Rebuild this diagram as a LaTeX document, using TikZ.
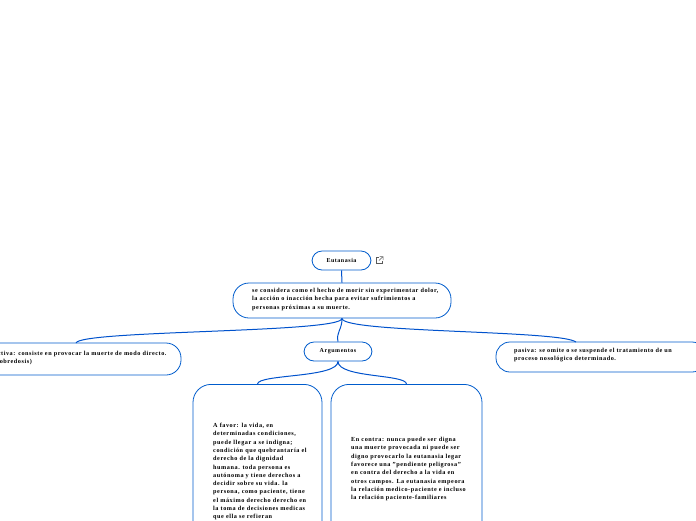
\documentclass[tikz,border=0pt]{standalone}
\usepackage{fontspec}
\setmainfont{Liberation Serif}[LetterSpace=9]
\begin{document}
\begin{tikzpicture}[x=1pt,y=-1pt,
  box/.style={draw=blue!55!cyan!80!black, line width=0.8pt, rounded corners=10pt, fill=white},
  txt/.style={font=\bfseries\fontsize{6.2}{8.3}\selectfont, align=left, anchor=north west, inner sep=0pt},
  link/.style={draw=blue!60!cyan!80!black, line width=1pt}]
\useasboundingbox (0,0) rectangle (696,520);
\clip (0,0) rectangle (696,520);
% boxes
\node[box, minimum width=59pt, minimum height=19pt, font=\bfseries\fontsize{6}{7}\selectfont] (eu) at (341.5,260.5) {Eutanasia};
\node[box, minimum width=218pt, minimum height=35pt, rounded corners=16pt] (def) at (342,300.5) {};
\node[txt] at (252,288) {se considera como el hecho de morir sin experimentar dolor,\\la acción o inacción hecha para evitar sufrimientos a\\personas próximas a su muerte.};
\node[box, minimum width=301pt, minimum height=32pt, rounded corners=15pt] (act) at (30.5,359) {};
\node[txt] at (-6,351) {activa: consiste en provocar la muerte de modo directo.\\(sobredosis)};
\node[box, minimum width=68pt, minimum height=19pt, font=\bfseries\fontsize{6}{7}\selectfont] (arg) at (338,351.5) {Argumentos};
\node[box, minimum width=210pt, minimum height=30pt, rounded corners=14pt] (pas) at (601,357) {};
\node[txt] at (514,348) {pasiva: se omite o se suspende el tratamiento de un\\proceso nosológico determinado.};
\node[box, minimum width=129pt, minimum height=170pt, rounded corners=18pt, anchor=north] (fav) at (257.5,384) {};
\node[txt] at (213,423) {A favor: la vida, en\\determinadas condiciones,\\puede llegar a se indigna;\\condición que quebrantaría el\\derecho de la dignidad\\humana. toda persona es\\autónoma y tiene derechos a\\decidir sobre su vida. la\\persona, como paciente, tiene\\el máximo derecho derecho en\\la toma de decisiones medicas\\que ella se refieran};
\node[box, minimum width=151pt, minimum height=170pt, rounded corners=18pt, anchor=north] (con) at (406.5,384) {};
\node[txt] at (351,437) {En contra: nunca puede ser digna\\una muerte provocada ni puede ser\\digno provocarlo la eutanasia legar\\favorece una "pendiente peligrosa"\\en contra del derecho a la vida en\\otros campos. La eutanasia empeora\\la relación medico-paciente e incluso\\la relación paciente-familiares};
% icon
\draw[gray!70!black, line width=0.5pt] (379,257.5) -- (376.5,257.5) -- (376.5,263) -- (382,263) -- (382,260.5);
\draw[gray!70!black, line width=0.5pt] (379.5,256.5) -- (383,256.5) -- (383,260) (383,256.5) -- (379,260.5);
% links
\draw[link] (eu.south) -- (def.north);
\draw[link] (def.south) .. controls (342,333) and (80,330) .. (76,343);
\draw[link] (def.south) .. controls (342,330) and (336,332) .. (arg.north);
\draw[link] (def.south) .. controls (342,333) and (560,330) .. (576,342);
\draw[link] (arg.south) .. controls (338,378) and (258,374) .. (fav.north);
\draw[link] (arg.south) .. controls (338,378) and (406,374) .. (con.north);
\end{tikzpicture}
\end{document}
